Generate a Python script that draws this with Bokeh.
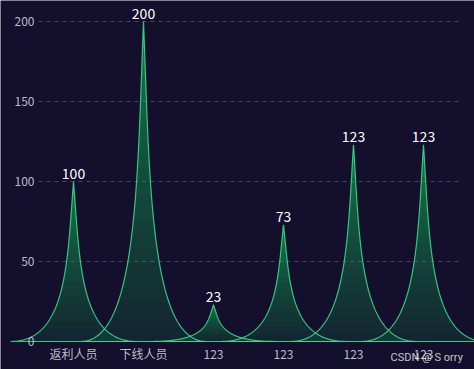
import numpy as np
from bokeh.plotting import figure
from bokeh.models import Range1d, FixedTicker, Label
from bokeh.core.properties import value
from bokeh.embed import file_html
from bokeh.resources import INLINE

# ---- data ----
categories = ["返利人员", "下线人员", "123", "123", "123", "123"]
values = [100, 200, 23, 73, 123, 123]
y_ticks = [0, 50, 100, 150, 200]
watermark = "CSDN @ S orry"

# ---- style ----
BG = "#130f2c"
FONT = "Noto Sans CJK SC"
AXIS_TEXT = "#bdbdca"
FILL = "#16c86a"
STROKE = "#3ad988"
PEAK_WIDTH = 1.8          # in category widths
A_TOP, A_BOT = 0.62, 0.11
N_LAYERS = 24

n = len(categories)
centers = np.arange(n) + 0.5

p = figure(frame_width=474, frame_height=369,
           x_range=Range1d(-0.5429, 6.2286), y_range=Range1d(-17.5, 213.125),
           output_backend="svg", toolbar_location=None,
           background_fill_color=BG, border_fill_color=BG,
           outline_line_color=None,
           min_border_left=0, min_border_right=0,
           min_border_top=0, min_border_bottom=0)
p.xgrid.visible = False
p.ygrid.visible = False

# dashed grid across the category area
gy = [t for t in y_ticks if t > 0]
p.segment(x0=[0] * len(gy), x1=[n] * len(gy), y0=gy, y1=gy,
          line_color="#46466a", line_dash="4 4", line_width=1)

# peak shape: cubic bezier (ECharts-like path)
def bez(t, a, b, c, d):
    return (1 - t) ** 3 * a + 3 * t * (1 - t) ** 2 * b + 3 * t ** 2 * (1 - t) * c + t ** 3 * d

t = np.linspace(0, 1, 240)
half = (bez(t, 10, 5.5, 5.5, 5) - 5) / 10.0   # 0.5 -> 0
rel = (10 - bez(t, 10, 10, 5, 0)) / 10.0      # 0 -> 1

def layer(cx, v, h):
    mask = rel > h
    hw = np.interp(h, rel, half)
    rx = np.concatenate([[hw], half[mask]])
    ry = np.concatenate([[h], rel[mask]])
    xs = np.concatenate([cx + PEAK_WIDTH * rx, (cx - PEAK_WIDTH * rx)[::-1]])
    ys = np.concatenate([v * ry, (v * ry)[::-1]])
    return list(xs), list(ys)

levels = np.arange(N_LAYERS) / N_LAYERS
A = A_BOT + (A_TOP - A_BOT) * (levels + 0.5 / N_LAYERS)
alphas = [A[0]] + [1 - (1 - A[k]) / (1 - A[k - 1]) for k in range(1, N_LAYERS)]

xs_all, ys_all, al_all = [], [], []
for cx, v in zip(centers, values):
    for h, a in zip(levels, alphas):
        xs, ys = layer(cx, v, h)
        xs_all.append(xs); ys_all.append(ys); al_all.append(a)
p.patches(xs=xs_all, ys=ys_all, fill_color=FILL, fill_alpha=al_all, line_color=None)

# outlines
oxs, oys = [], []
for cx, v in zip(centers, values):
    xs, ys = layer(cx, v, 0.0)
    oxs.append(xs + [xs[0]]); oys.append(ys + [ys[0]])
p.multi_line(xs=oxs, ys=oys, line_color=STROKE, line_width=1.2, line_alpha=0.9)

# value labels
p.text(x=list(centers), y=values, text=[str(v) for v in values],
       text_align="center", text_baseline="bottom", y_offset=-3,
       text_color="white", text_font=value(FONT), text_font_size="14px")

# axes (labels drawn inside the frame, ECharts-like)
p.xaxis.ticker = FixedTicker(ticks=list(centers))
p.xaxis.major_label_overrides = {float(c): lab for c, lab in zip(centers, categories)}
p.yaxis.ticker = FixedTicker(ticks=y_ticks)
for axes in (p.xaxis, p.yaxis):
    axes.axis_line_color = None
    axes.major_tick_line_color = None
    axes.minor_tick_line_color = None
    axes.major_tick_out = 0
    axes.major_tick_in = 0
    axes.minor_tick_out = 0
    axes.major_label_text_color = AXIS_TEXT
    axes.major_label_text_font = FONT
    axes.major_label_text_font_size = "12px"
p.xaxis.major_label_standoff = -25
p.yaxis.major_label_standoff = -34

p.add_layout(Label(x=(390 - 38) / 70, y=(341 - 357) / 1.6, text=watermark,
                   text_baseline="middle", text_color="#e6e6e6", text_alpha=0.85,
                   text_font="Roboto", text_font_size="11px"))

html = file_html(p, INLINE)
html = html.replace("<body>", '<body style="background-color:%s">' % BG, 1)
open("out.html", "w").write(html)
